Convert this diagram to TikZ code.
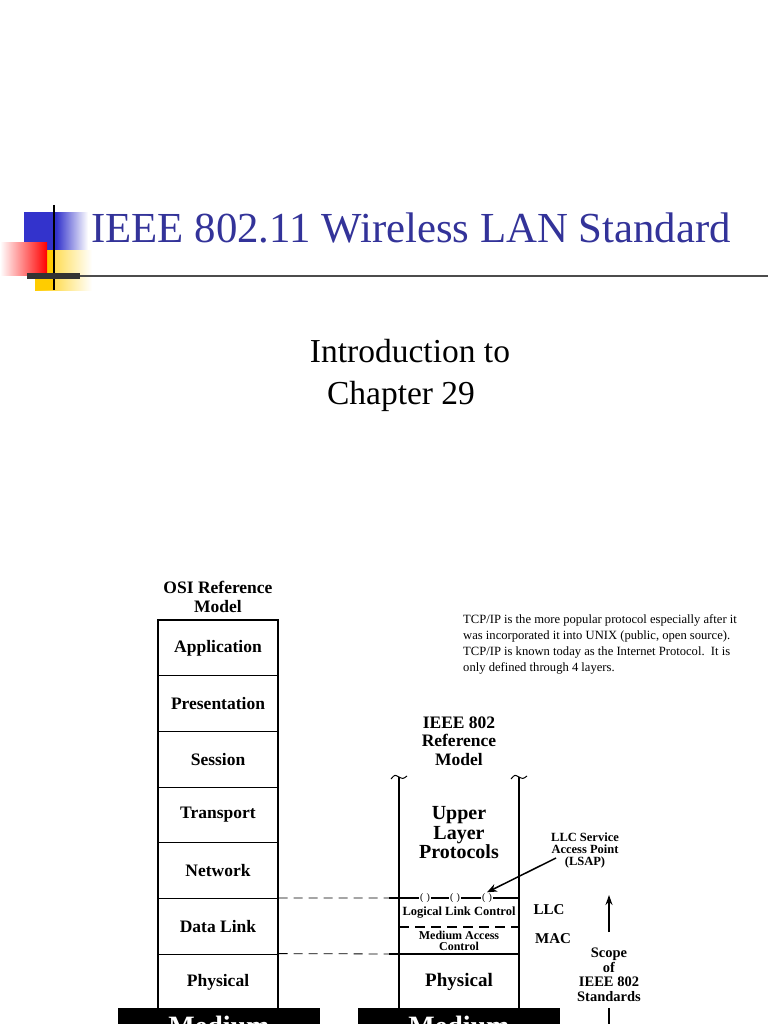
\documentclass[tikz,border=0pt]{standalone}
\usepackage{fontspec}
\setmainfont{Liberation Serif}
\usetikzlibrary{arrows.meta}
\definecolor{navy}{RGB}{51,51,153}
\definecolor{lblue}{RGB}{51,51,204}
\definecolor{lyel}{RGB}{255,204,0}
\begin{document}
\begin{tikzpicture}[x=1pt,y=-1pt,
  layer/.style={draw,line width=1.2pt,minimum width=120pt,minimum height=55.7pt,font=\fontsize{17.5}{19}\selectfont\bfseries,inner sep=0pt},
  lbl/.style={font=\fontsize{17.5}{18.5}\selectfont\bfseries,align=center,inner sep=0pt},
  sm/.style={font=\fontsize{13}{13}\selectfont\bfseries,align=center,inner sep=0pt}]
\useasboundingbox (0,0) rectangle (768,1024);
% logo
\shade[left color=lblue,right color=white,middle color=lblue] (24,213) rectangle (88,250);
\fill[lblue] (24,213) rectangle (55,250);
\shade[left color=lyel,right color=white] (35,250) rectangle (92,290);
\fill[lyel] (35,250) rectangle (55,290);
\shade[left color=white,right color=red] (0,242) rectangle (47,275);
\draw[line width=1.5pt] (54,205) -- (54,290);
\fill[black!80] (27,273) rectangle (80,279);
\draw[line width=1.5pt,black!70] (80,276) -- (768,276);
\node[anchor=base west,text=navy,font=\fontsize{42.8}{44}\selectfont,inner sep=0pt] (title) at (91,243) {IEEE 802.11 Wireless LAN Standard};
\node[anchor=base,font=\fontsize{33.5}{35}\selectfont,inner sep=0pt] (s1) at (410,362) {Introduction to};
\node[anchor=base,font=\fontsize{33.5}{35}\selectfont,inner sep=0pt] (s2) at (401,404) {Chapter 29};
% OSI
\node[lbl] (osit) at (218,597) {OSI Reference\\Model};
\foreach \t [count=\i] in {Application,Presentation,Session,Transport,Network,Data Link,Physical}
  \node[layer] (o\i) at (218,{620+27.85+55.7*(\i-1)}) {\t};
% TCP text
\node[anchor=north west,align=left,font=\fontsize{12.6}{16}\selectfont,inner sep=0pt] (tcp) at (463,614) {TCP/IP is the more popular protocol especially after it\\was incorporated it into UNIX (public, open source).\\TCP/IP is known today as the Internet Protocol.\ \ It is\\only defined through 4 layers.};
% IEEE 802
\node[lbl] (ieeet) at (459,741) {IEEE 802\\Reference\\Model};
\coordinate (lt) at (399,777); \coordinate (rt) at (519,777);
\coordinate (lb) at (399,1010); \coordinate (rb) at (519,1010);
\draw[line width=1.2pt] (lt) -- (lb) (rt) -- (rb);
\draw[line width=1pt] (lt) ++(-8,2) .. controls +(4,-5) and +(-4,-2) .. ++(8,-2) .. controls +(4,2) and +(-4,3) .. ++(8,-1);
\draw[line width=1pt] (rt) ++(-8,2) .. controls +(4,-5) and +(-4,-2) .. ++(8,-2) .. controls +(4,2) and +(-4,3) .. ++(8,-1);
\node[lbl,font=\fontsize{20}{19.5}\selectfont\bfseries] (ulp) at (459,833) {Upper\\Layer\\Protocols};
\coordinate (a1) at (399,898); \coordinate (a2) at (519,898);
\coordinate (c1) at (399,954); \coordinate (c2) at (519,954);
\draw[line width=1.2pt] (389,898) -- (a2) (389,954) -- (c2);
\draw[line width=1.5pt,dash pattern=on 10pt off 6pt] (399,927) -- (519,927);
\draw[line width=0.8pt,dash pattern=on 9pt off 6pt] (o6.north east) -- (a1) (o7.north east) -- (c1);
\foreach \x/\n in {425/p1,455/p2,487/p3} \node[fill=white,inner sep=1pt,font=\fontsize{10}{10}\selectfont] (\n) at (\x,898) {(\,\,)};
\node[sm,font=\fontsize{12.5}{12}\selectfont\bfseries] (llcb) at (459,913) {Logical Link Control};
\node[sm,font=\fontsize{12}{11.5}\selectfont\bfseries] (macb) at (459,941) {Medium Access\\Control};
\node[lbl,font=\fontsize{19}{20}\selectfont\bfseries] (phy) at (459,982) {Physical};
\node[sm,font=\fontsize{15}{15}\selectfont\bfseries] (llc) at (549,910) {LLC};
\node[sm,font=\fontsize{15}{15}\selectfont\bfseries] (mac) at (553,939) {MAC};
\node[sm,font=\fontsize{12.5}{12}\selectfont\bfseries] (lsap) at (585,850) {LLC Service\\Access Point\\(LSAP)};
\draw[line width=1.5pt,-{Stealth[length=10pt,width=8pt]}] (556,858) -- (p3.north);
\node[sm,font=\fontsize{14.5}{14.5}\selectfont\bfseries] (scope) at (609,975) {Scope\\of\\IEEE 802\\Standards};
\draw[line width=1.5pt,-{Stealth[length=10pt,width=7pt]}] (609,932) -- (609,895);
\draw[line width=1.5pt] (scope.south) ++(0,6) -- (609,1024);
% medium bars
\begin{scope}
\clip (0,0) rectangle (768,1024);
\fill (118,1008) rectangle (320,1030);
\fill (358,1008) rectangle (560,1030);
\node[anchor=north,text=white,font=\fontsize{28}{28}\selectfont\bfseries,inner sep=0pt] (m1) at (219,1016) {Medium};
\node[anchor=north,text=white,font=\fontsize{28}{28}\selectfont\bfseries,inner sep=0pt] (m2) at (459,1016) {Medium};
\end{scope}
\end{tikzpicture}
\end{document}
